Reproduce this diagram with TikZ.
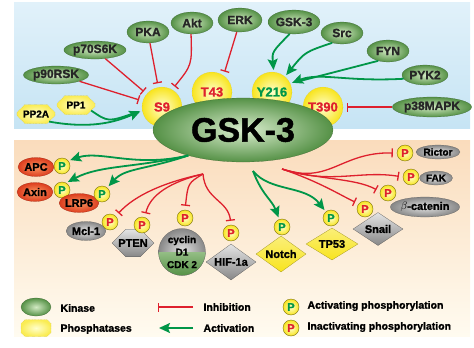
\documentclass[tikz,border=0pt]{standalone}
\usepackage{fontspec}
\setmainfont{Liberation Sans}[BoldFeatures={FakeBold=1.3}]
\usetikzlibrary{shapes.geometric,shapes.misc,arrows.meta}
\definecolor{kinD}{RGB}{85,145,70}
\definecolor{kinL}{RGB}{210,234,195}
\definecolor{ylwD}{RGB}{248,228,30}
\definecolor{ylwL}{RGB}{255,255,205}
\definecolor{redD}{RGB}{220,60,30}
\definecolor{redL}{RGB}{250,150,95}
\definecolor{gryD}{RGB}{135,135,135}
\definecolor{gryL}{RGB}{228,228,228}
\definecolor{inhC}{RGB}{222,32,45}
\definecolor{actC}{RGB}{0,150,72}
\definecolor{sky}{RGB}{198,228,244}
\definecolor{skyL}{RGB}{225,241,250}
\definecolor{peach}{RGB}{250,220,188}
\definecolor{cream}{RGB}{255,251,240}
\tikzset{
  kinase/.style={ellipse, inner sep=0pt, minimum height=20pt, inner color=kinL, outer color=kinD,
    draw=kinD!70!black, very thin, font=\bfseries\fontsize{12}{12}\selectfont, text=black!85},
  phos/.style={chamfered rectangle, chamfered rectangle xsep=4pt, chamfered rectangle ysep=4pt,
    inner sep=2pt, minimum height=19pt, inner color=ylwL, outer color=ylwD!70!ylwL,
    draw=ylwD!60!black, densely dotted, very thin, font=\bfseries\fontsize{10}{10}\selectfont},
  site/.style={circle, minimum size=40pt, inner sep=0pt, inner color=ylwL, outer color=ylwD,
    draw=ylwD!60!black, very thin, densely dotted, font=\bfseries\fontsize{13}{13}\selectfont, text=inhC},
  pact/.style={circle, minimum size=16pt, inner sep=0pt, inner color=ylwL, outer color=ylwD,
    draw=ylwD!50!black, thin, font=\bfseries\fontsize{11}{11}\selectfont, text=actC},
  pinact/.style={pact, text=inhC},
  redsub/.style={ellipse, inner sep=0pt, minimum width=36pt, minimum height=19pt, inner color=redL,
    outer color=redD, draw=redD!70!black, very thin, font=\bfseries\fontsize{11}{11}\selectfont},
  grysub/.style={ellipse, inner sep=0pt, minimum height=19pt, inner color=gryL, outer color=gryD,
    draw=gryD!70!black, very thin, font=\bfseries\fontsize{11}{11}\selectfont},
  diam/.style={diamond, aspect=1.4, inner sep=0pt, minimum width=50pt, minimum height=36pt,
    very thin, font=\bfseries\fontsize{11}{11}\selectfont},
  ylwdiam/.style={diam, top color=ylwD!60!white, bottom color=ylwD, draw=ylwD!60!black},
  grydiam/.style={diam, top color=gryL, bottom color=gryD, draw=gryD!60!black},
  inh/.style={inhC, line width=1.3pt, shorten >=4pt, -{Bar[width=9pt]}},
  act/.style={actC, line width=1.8pt, shorten >=2pt, -{Stealth[length=11pt,width=10pt,inset=2pt]}},
  actline/.style={actC, line width=1.8pt, shorten >=10pt},
  legend/.style={anchor=west, font=\bfseries\fontsize{10.5}{10.5}\selectfont}
}
\begin{document}
\begin{tikzpicture}[x=1pt,y=-1pt]
  \useasboundingbox (0,0) rectangle (474,348);
  \shade[top color=skyL, bottom color=sky] (14,2) rectangle (470,128);
  \shade[top color=peach, bottom color=cream] (14,140) rectangle (470,336);

  % upstream kinases and phosphatases
  \node[kinase, minimum width=64pt, minimum height=18pt] (p90rsk) at (56,75) {p90RSK};
  \node[kinase, minimum width=58pt, minimum height=18pt] (p70s6k) at (95,50) {p70S6K};
  \node[kinase, minimum width=42pt, minimum height=22pt] (pka) at (148,32) {PKA};
  \node[kinase, minimum width=42pt, minimum height=22pt] (akt) at (192,23) {Akt};
  \node[kinase, minimum width=44pt, minimum height=24pt] (erk) at (240,20) {ERK};
  \node[kinase, minimum width=48pt, minimum height=24pt] (gskk) at (294,22) {GSK-3};
  \node[kinase, minimum width=42pt, minimum height=22pt] (src) at (342,33) {Src};
  \node[kinase, minimum width=42pt, minimum height=22pt] (fyn) at (388,51) {FYN};
  \node[kinase, minimum width=46pt, minimum height=20pt] (pyk2) at (425,75) {PYK2};
  \node[kinase, minimum width=76pt, minimum height=20pt] (p38) at (432,107) {p38MAPK};
  \node[phos, minimum width=38pt] (pp1) at (76,105) {PP1};
  \node[phos, minimum width=38pt] (pp2a) at (36,114) {PP2A};

  \node[site] (s9) at (162,107) {S9};
  \node[site] (t43) at (212,92) {T43};
  \node[site, text=actC] (y216) at (272,92) {Y216};
  \node[site] (t390) at (323,107) {T390};
  \node[ellipse, minimum width=180pt, minimum height=64pt, inner sep=0pt, inner color=kinL!80!white,
    outer color=kinD, draw=kinD!70!black, very thin, font=\bfseries\fontsize{34}{34}\selectfont] (gsk) at (243,130) {GSK-3};

  % substrates
  \node[redsub] (apc) at (36,167) {APC};
  \node[pact] (papc) at (62,166) {P};
  \node[redsub] (axin) at (35,192) {Axin};
  \node[pact] (paxin) at (62,190) {P};
  \node[redsub, minimum width=34pt] (lrp6) at (79,203) {LRP6};
  \node[pact] (plrp6) at (102,194) {P};
  \node[grysub, minimum width=36pt] (mcl1) at (86,231) {Mcl-1};
  \node[pinact] (pmcl1) at (110,222) {P};
  \node[chamfered rectangle, chamfered rectangle xsep=6pt, chamfered rectangle ysep=10pt, inner sep=0pt,
    minimum width=42pt, minimum height=20pt, top color=gryL, bottom color=gryD, draw=gryD!60!black,
    very thin, font=\bfseries\fontsize{11}{11}\selectfont] (pten) at (133,243) {PTEN};
  \node[pinact] (ppten) at (142,225) {P};
  \node[circle, minimum size=47pt, inner sep=0pt, align=center, font=\bfseries\fontsize{10}{12.5}\selectfont,
    inner color=gryL, outer color=gryD, draw=gryD!70!black, very thin,
    path picture={\shade[top color=kinL, bottom color=kinD] (path picture bounding box.west) rectangle (path picture bounding box.south east);}]
    (cyclin) at (182,252) {cyclin\\D1\\CDK 2};
  \node[pinact] (pcyclin) at (185,218) {P};
  \node[grydiam] (hif) at (231,262) {HIF-1a};
  \node[pinact] (phif) at (231,233) {P};
  \node[ylwdiam] (notch) at (281,254) {Notch};
  \node[pact] (pnotch) at (282,227) {P};
  \node[ylwdiam, aspect=1.6, minimum width=52pt, minimum height=32pt] (tp53) at (332,244) {TP53};
  \node[pact] (ptp53) at (331,218) {P};
  \node[grydiam, minimum height=33pt] (snail) at (378,229) {Snail};
  \node[pinact] (psnail) at (365,209) {P};
  \node[grysub, minimum width=66pt, minimum height=20pt] (bcat) at (425,207) {$\beta$-catenin};
  \node[pinact] (pbcat) at (388,193) {P};
  \node[grysub, minimum width=33pt, minimum height=14pt, font=\bfseries\fontsize{10}{10}\selectfont] (fak) at (436,178) {FAK};
  \node[pinact] (pfak) at (411,177) {P};
  \node[grysub, minimum width=44pt, minimum height=14pt, font=\bfseries\fontsize{10}{10}\selectfont] (rictor) at (438,152) {Rictor};
  \node[pinact] (prictor) at (405,153) {P};

  % regulation of GSK-3
  \draw[inh] (p90rsk.-15) -- (s9);
  \draw[inh] (p70s6k.-40) -- (s9);
  \draw[inh] (pka.-80) -- (s9);
  \draw[inh] (akt.-95) .. controls (192,65) .. (s9.60);
  \draw[inh] (erk.-105) -- (t43.55);
  \draw[inh] (p38) -- (t390);
  \draw[act] (pp2a.-30) .. controls (95,130) and (120,120) .. (s9.190);
  \draw[actline] (pp1.-20) .. controls (108,122) .. (s9.190);
  \draw[act] (gskk.-110) .. controls (272,52) .. (y216.85);
  \draw[act] (src.-135) .. controls (305,52) .. (y216.50);
  \draw[act] (pyk2.190) .. controls (345,82) and (320,72) .. (y216.25);
  \draw[actline] (fyn.-135) .. controls (335,72) .. (y216.25);

  % GSK-3 targets
  \coordinate (rl) at (203,174);
  \coordinate (gr) at (253,171);
  \coordinate (rr) at (282,169);
  \draw[act] (gsk.205) .. controls (135,168) and (100,150) .. (papc.40);
  \draw[act] (gsk.205) .. controls (135,168) and (100,165) .. (paxin.60);
  \draw[act] (gsk.205) .. controls (145,170) and (125,168) .. (plrp6.50);
  \draw[inh] (rl) .. controls (165,182) and (135,195) .. (pmcl1.45);
  \draw[inh] (rl) .. controls (170,182) and (150,195) .. (ppten.70);
  \draw[inh] (rl) .. controls (188,183) .. (pcyclin.90);
  \draw[inh] (rl) .. controls (205,200) and (228,200) .. (phif.90);
  \draw[act] (gr) .. controls (262,195) and (272,200) .. (pnotch.110);
  \draw[act] (gr) .. controls (270,192) and (305,185) .. (ptp53.130);
  \draw[inh] (rr) .. controls (330,185) and (340,152) .. (prictor.180);
  \draw[inh] (rr) .. controls (330,185) and (360,170) .. (pfak.180);
  \draw[inh] (rr) .. controls (320,180) and (355,178) .. (pbcat.170);
  \draw[inh] (rr) .. controls (320,182) and (340,195) .. (psnail.140);

  % legend
  \node[kinase, minimum width=30pt, minimum height=18pt] (lkin) at (36,307) {};
  \node[legend] (lkintext) at (57,308) {Kinase};
  \node[phos, minimum width=30pt, minimum height=17pt] (lphos) at (36,328) {};
  \node[legend] (lphostext) at (57,329) {Phosphatases};
  \coordinate (linhA) at (193,307);
  \coordinate (linhB) at (158,307);
  \draw[inh, shorten >=0pt] (linhA) -- (linhB);
  \node[legend] (linh) at (200,307) {Inhibition};
  \coordinate (lactA) at (193,328);
  \coordinate (lactB) at (159,328);
  \draw[act, shorten >=0pt] (lactA) -- (lactB);
  \node[legend] (lact) at (200,328) {Activation};
  \node[pact] (lpact) at (291,307) {P};
  \node[legend] (lpacttext) at (304,306) {Activating phosphorylation};
  \node[pinact] (lpinact) at (291,328) {P};
  \node[legend] (lpinacttext) at (304,327) {Inactivating phosphorylation};
\end{tikzpicture}
\end{document}
